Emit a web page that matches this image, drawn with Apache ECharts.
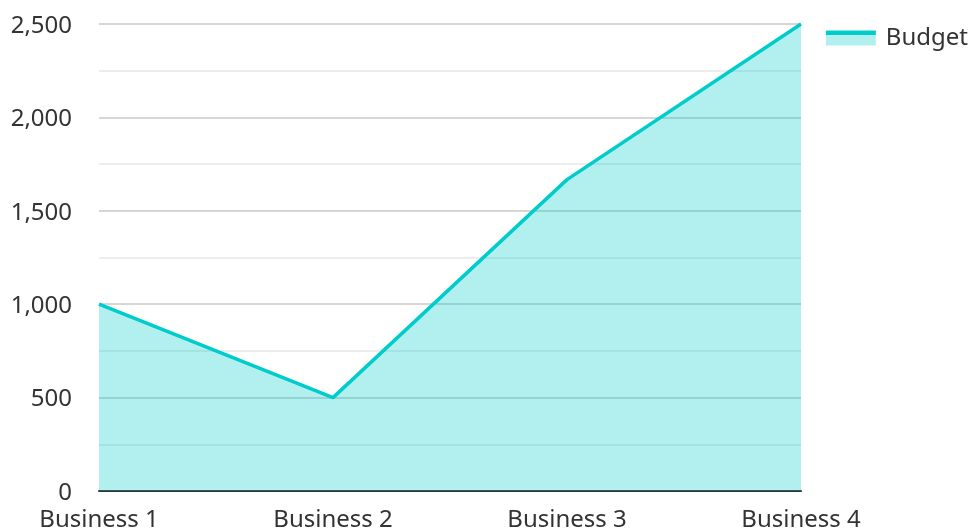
<!DOCTYPE html>
<html><head><meta charset="utf-8">
<script src="https://cdn.jsdelivr.net/npm/echarts@6/dist/echarts.min.js"></script>
<style>html,body{margin:0;padding:0;background:#fff}#c{width:974px;height:531px}</style>
</head><body><div id="c"></div>
<script>
const categories = ['Business 1', 'Business 2', 'Business 3', 'Business 4'];
const budget = [1000, 500, 1667, 2500];
const seriesName = 'Budget';

const chart = echarts.init(document.getElementById('c'));
const font = '"Noto Sans", sans-serif';
chart.setOption({
  animation: false,
  textStyle: { fontFamily: font },
  legend: {
    right: 1, top: 21, orient: 'vertical',
    itemWidth: 50, itemHeight: 15, itemGap: 10,
    textStyle: { fontSize: 24, color: '#333', fontFamily: font, padding: [0, 0, 0, 5] },
    data: [{
      name: seriesName, icon: 'rect',
      itemStyle: { color: { type: 'linear', x: 0, y: 0, x2: 0, y2: 1, colorStops: [
        { offset: 0, color: '#00cccc' }, { offset: 0.27, color: '#00cccc' },
        { offset: 0.27, color: '#b2f0f0' }, { offset: 1, color: '#b2f0f0' }] } }
    }]
  },
  grid: { left: 99, right: 173, top: 24, bottom: 40, containLabel: false, outerBoundsMode: 'none' },
  xAxis: {
    type: 'category', data: categories, boundaryGap: false,
    axisLine: { lineStyle: { color: '#333', width: 2 } },
    axisTick: { show: false },
    axisLabel: { fontSize: 24, color: '#333', margin: 17, fontFamily: font },
    splitLine: { show: false }
  },
  yAxis: {
    type: 'value', min: 0, max: 2500, interval: 500,
    axisLine: { show: false }, axisTick: { show: false },
    axisLabel: { color: '#333', margin: 27,
      formatter: v => '{a|' + v.toLocaleString('en-US') + '}',
      rich: { a: { fontSize: 24, color: '#333', fontFamily: font, padding: [4, 0, 0, 0] } } },
    splitLine: { lineStyle: { color: '#c8c8c8', width: 1.5 } },
    minorTick: { show: false, splitNumber: 2 },
    minorSplitLine: { show: true, lineStyle: { color: '#e8e8e8', width: 1.5 } }
  },
  series: [{
    name: seriesName, type: 'line', data: budget, symbol: 'none',
    lineStyle: { color: '#00cccc', width: 3.5 },
    itemStyle: { color: '#00cccc' },
    areaStyle: { color: '#00cccc', opacity: 0.3 }
  }]
});
</script></body></html>
